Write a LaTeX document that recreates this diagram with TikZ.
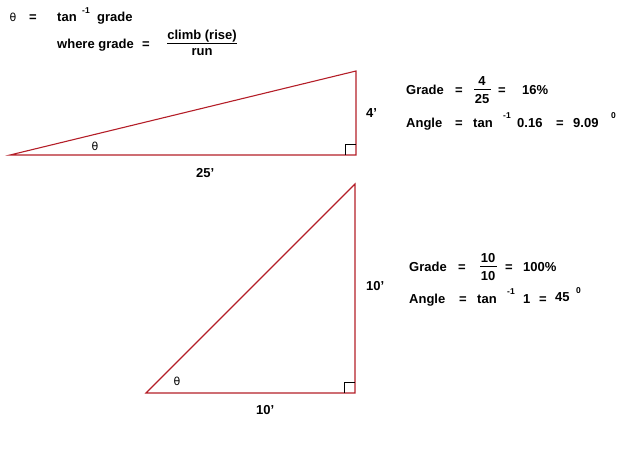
\documentclass[tikz,border=0pt]{standalone}
\usepackage{fontspec}
\setmainfont{Liberation Sans}
\newfontfamily\symfont{DejaVu Sans}
\definecolor{tri}{RGB}{180,30,40}
\begin{document}
\begin{tikzpicture}[x=1pt,y=-1pt,
  lbl/.style={font=\bfseries\fontsize{13}{15}\selectfont, inner sep=0pt, anchor=base west},
  sup/.style={font=\bfseries\fontsize{8.5}{9}\selectfont, inner sep=0pt, anchor=base west},
  th/.style={font=\symfont\fontsize{11}{12}\selectfont, inner sep=0pt},
  edge/.style={draw=tri, line width=1.1pt},
  rmark/.style={draw=black, line width=0.7pt}]
\useasboundingbox (0,0) rectangle (623,455);
% header
\node[th] (th0) at (13,17) {θ};
\node[lbl] (eq0) at (29,21) {=};
\node[lbl] (tan0) at (57,21) {tan};
\node[sup] (s0) at (82,13) {-1};
\node[lbl] (g0) at (97,21) {grade};
\node[lbl] (wg) at (57,48) {where grade};
\node[lbl] (eq1) at (142,48) {=};
\node[lbl, anchor=base] (cl) at (202,39) {climb (rise)};
\draw[line width=0.9pt] (167,43.5) -- (237,43.5);
\node[lbl, anchor=base] (run) at (202,55) {run};
% triangle 1
\coordinate (a1) at (10,155);
\coordinate (b1) at (356,155);
\coordinate (c1) at (356,71);
\draw[edge] (a1) -- (b1) -- (c1) -- cycle;
\draw[rmark] (345,155) -- (345,144) -- (356,144);
\node[th] (th1) at (95,146) {θ};
\node[lbl] (l4) at (366,117) {4'};
\node[lbl] (l25) at (196,177) {25'};
% eqs 1
\node[lbl] (gr1) at (406,94) {Grade};
\node[lbl] (e11) at (455,94) {=};
\node[lbl, anchor=base] (n1) at (482,85) {4};
\draw[line width=0.9pt] (474,89.5) -- (491,89.5);
\node[lbl, anchor=base] (d1) at (482,103) {25};
\node[lbl] (e12) at (498,94) {=};
\node[lbl] (p1) at (522,94) {16\%};
\node[lbl] (an1) at (406,127) {Angle};
\node[lbl] (e13) at (455,127) {=};
\node[lbl] (tan1) at (473,127) {tan};
\node[sup] (s1) at (503,118) {-1};
\node[lbl] (v1) at (517,127) {0.16};
\node[lbl] (e14) at (556,127) {=};
\node[lbl] (r1) at (573,127) {9.09};
\node[sup] (o1) at (611,118) {0};
% triangle 2
\coordinate (a2) at (146,393);
\coordinate (b2) at (355,393);
\coordinate (c2) at (355,184);
\draw[edge] (a2) -- (b2) -- (c2) -- cycle;
\draw[rmark] (344,393) -- (344,382) -- (355,382);
\node[th] (th2) at (177,381) {θ};
\node[lbl] (l10a) at (366,290) {10'};
\node[lbl] (l10b) at (256,414) {10'};
% eqs 2
\node[lbl] (gr2) at (409,271) {Grade};
\node[lbl] (e21) at (458,271) {=};
\node[lbl, anchor=base] (n2) at (488,262) {10};
\draw[line width=0.9pt] (480,266.5) -- (497,266.5);
\node[lbl, anchor=base] (d2) at (488,280) {10};
\node[lbl] (e22) at (505,271) {=};
\node[lbl] (p2) at (523,271) {100\%};
\node[lbl] (an2) at (409,303) {Angle};
\node[lbl] (e23) at (459,303) {=};
\node[lbl] (tan2) at (477,303) {tan};
\node[sup] (s2) at (507,294) {-1};
\node[lbl] (v2) at (523,303) {1};
\node[lbl] (e24) at (539,303) {=};
\node[lbl] (r2) at (555,301) {45};
\node[sup] (o2) at (576,293) {0};
\end{tikzpicture}
\end{document}
